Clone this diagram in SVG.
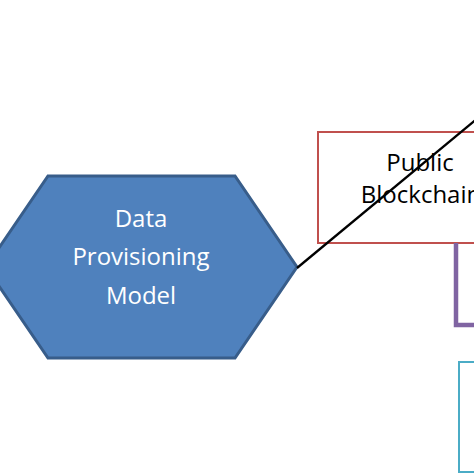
<svg xmlns="http://www.w3.org/2000/svg" width="474" height="474" viewBox="0 0 474 474">
<style>
.lbl{font-family:"Open Sans","Liberation Sans",sans-serif;font-size:24px;text-anchor:middle}
</style>
<rect width="474" height="474" fill="#ffffff"/>
<g id="node-data-provisioning">
<polygon points="-14,267 48,176 235,176 297,267 235,358 48,358" fill="#4F81BD" stroke="#385D8A" stroke-width="3"/>
<text class="lbl" fill="#ffffff" x="141" y="227">Data</text>
<text class="lbl" fill="#ffffff" x="141" y="265">Provisioning</text>
<text class="lbl" fill="#ffffff" x="141" y="304">Model</text>
</g>
<g id="node-public-blockchain">
<rect x="318" y="132" width="170" height="111" fill="#ffffff" stroke="#C0504D" stroke-width="2"/>
<text class="lbl" fill="#000000" x="420" y="171">Public</text>
<text class="lbl" fill="#000000" x="421" y="203">Blockchain</text>
</g>
<g id="node-teal">
<rect x="459" y="362" width="30" height="110" fill="#ffffff" stroke="#4BACC6" stroke-width="2"/>
</g>
<g id="connectors">
<line x1="297" y1="268" x2="478" y2="118" stroke="#000000" stroke-width="2.3"/>
<polyline points="456,243 456,325 476,325" fill="none" stroke="#8064A2" stroke-width="4.5"/>
</g>
</svg>
